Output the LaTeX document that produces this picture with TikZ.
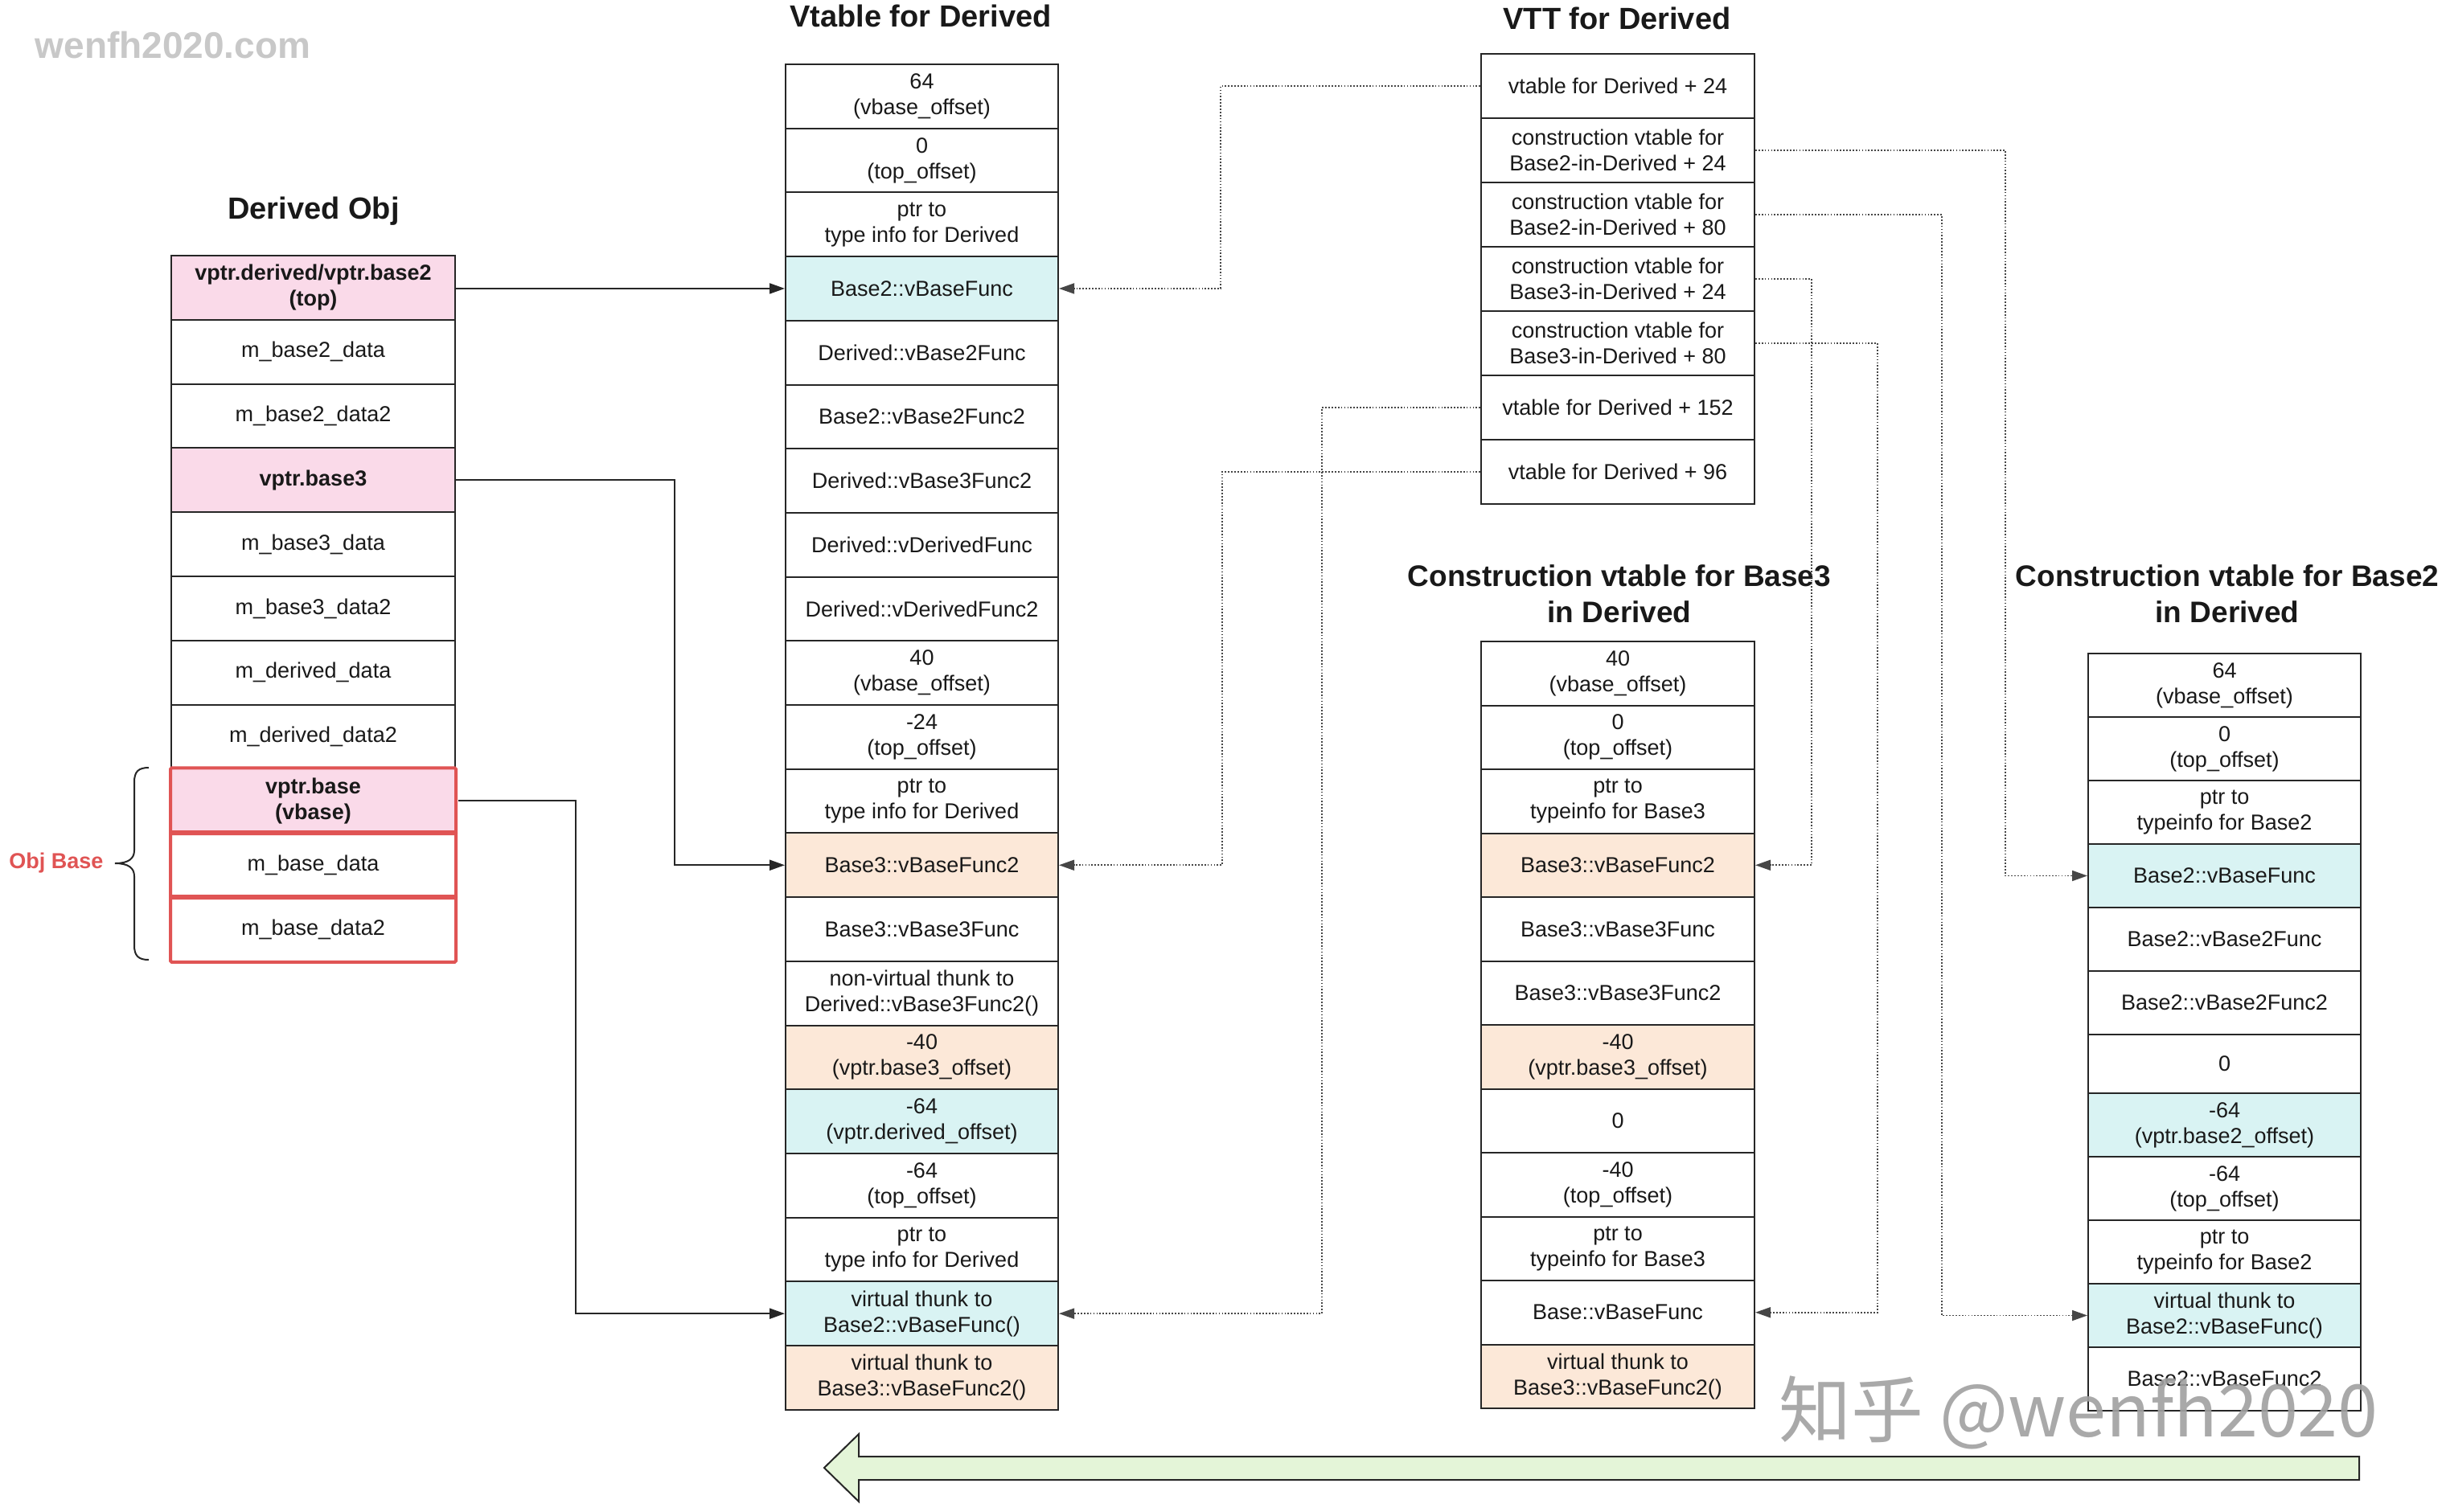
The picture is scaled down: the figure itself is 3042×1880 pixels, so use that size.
\documentclass[tikz,border=0pt]{standalone}
\usepackage{fontspec}
\setmainfont{Liberation Sans}
\newfontfamily\cjkfont{Noto Sans CJK SC}
\usetikzlibrary{arrows.meta}
\definecolor{linec}{RGB}{38,38,38}
\definecolor{dotc}{RGB}{70,70,70}
\definecolor{textc}{RGB}{25,25,25}
\definecolor{pinkc}{RGB}{250,218,233}
\definecolor{cyanc}{RGB}{217,243,243}
\definecolor{peachc}{RGB}{252,232,216}
\definecolor{greenc}{RGB}{228,245,216}
\definecolor{objred}{RGB}{224,84,84}
\definecolor{wmgray}{RGB}{200,200,200}
\definecolor{wmgray2}{RGB}{160,160,160}
\newcommand\SetTbl[4]{\def\TBx{#1}\def\TBy{#2}\def\TBw{#3}\def\TBh{#4}}
\newcommand\TRow[4]{\node[cellbox,fill=#3,minimum width=\TBw pt,minimum height=\TBh pt,anchor=north west] (#1) at (\TBx,\TBy+#2*\TBh) {#4};}
\begin{document}
\begin{tikzpicture}[x=1pt,y=-1pt,
  cellbox/.style={draw=linec,line width=2pt,inner sep=0pt,align=center,text=textc,font=\fontsize{27}{32}\selectfont},
  redbox/.style={draw=objred,line width=4pt,rounded corners=1.5pt},
  title/.style={font=\fontsize{38}{45}\selectfont\bfseries,text=textc,align=center,inner sep=0pt},
  ctitle/.style={font=\fontsize{37}{45}\selectfont\bfseries,text=textc,align=center,inner sep=0pt},
  conn/.style={draw=linec,line width=2pt,-{Triangle[length=19pt,width=13pt]}},
  dconn/.style={draw=dotc,line width=1.7pt,dash pattern=on 1.7pt off 2.2pt,-{Triangle[length=19pt,width=13pt]}},
  wm/.style={inner sep=0pt}]
\useasboundingbox[fill=white] (0,0) rectangle (3042,1880);

% watermark top-left
\node[wm,text=wmgray,font=\fontsize{46}{52}\selectfont\bfseries] (wm1) at (215,56) {wenfh2020.com};

% titles
\node[title] (tObj) at (390,263) {Derived Obj};
\node[title] (tVt) at (1145,20) {Vtable for Derived};
\node[title] (tVTT) at (2011,23) {VTT for Derived};
\node[ctitle] (tC3) at (2014,739) {Construction vtable for Base3\\in Derived};
\node[ctitle] (tC2) at (2770,739) {Construction vtable for Base2\\in Derived};

% Derived object
\SetTbl{212}{317}{353}{79.8}
\TRow{o0}{0}{pinkc}{\bfseries vptr.derived/vptr.base2\\\bfseries(top)}
\TRow{o1}{1}{white}{m\_base2\_data}
\TRow{o2}{2}{white}{m\_base2\_data2}
\TRow{o3}{3}{pinkc}{\bfseries vptr.base3}
\TRow{o4}{4}{white}{m\_base3\_data}
\TRow{o5}{5}{white}{m\_base3\_data2}
\TRow{o6}{6}{white}{m\_derived\_data}
\TRow{o7}{7}{white}{m\_derived\_data2}
\TRow{o8}{8}{pinkc}{\bfseries vptr.base\\\bfseries(vbase)}
\TRow{o9}{9}{white}{m\_base\_data}
\TRow{o10}{10}{white}{m\_base\_data2}
\draw[redbox] (o8.north west) rectangle (o8.south east);
\draw[redbox] (o9.north west) rectangle (o9.south east);
\draw[redbox] (o10.north west) rectangle (o10.south east);

% brace and label
\draw[linec,line width=2pt] (185,955) .. controls (172,955) and (167,960) .. (167,973)
  -- (167,1058) .. controls (167,1068) and (160,1074) .. (143,1074)
  .. controls (160,1074) and (167,1080) .. (167,1090)
  -- (167,1176) .. controls (167,1189) and (172,1194) .. (185,1194);
\node[inner sep=0pt,text=objred,font=\fontsize{27}{32}\selectfont\bfseries] (objbase) at (70,1074) {Obj Base};

% Vtable for Derived
\SetTbl{976}{79}{339}{79.7}
\TRow{v0}{0}{white}{64\\(vbase\_offset)}
\TRow{v1}{1}{white}{0\\(top\_offset)}
\TRow{v2}{2}{white}{ptr to\\type info for Derived}
\TRow{v3}{3}{cyanc}{Base2::vBaseFunc}
\TRow{v4}{4}{white}{Derived::vBase2Func}
\TRow{v5}{5}{white}{Base2::vBase2Func2}
\TRow{v6}{6}{white}{Derived::vBase3Func2}
\TRow{v7}{7}{white}{Derived::vDerivedFunc}
\TRow{v8}{8}{white}{Derived::vDerivedFunc2}
\TRow{v9}{9}{white}{40\\(vbase\_offset)}
\TRow{v10}{10}{white}{-24\\(top\_offset)}
\TRow{v11}{11}{white}{ptr to\\type info for Derived}
\TRow{v12}{12}{peachc}{Base3::vBaseFunc2}
\TRow{v13}{13}{white}{Base3::vBase3Func}
\TRow{v14}{14}{white}{non-virtual thunk to\\Derived::vBase3Func2()}
\TRow{v15}{15}{peachc}{-40\\(vptr.base3\_offset)}
\TRow{v16}{16}{cyanc}{-64\\(vptr.derived\_offset)}
\TRow{v17}{17}{white}{-64\\(top\_offset)}
\TRow{v18}{18}{white}{ptr to\\type info for Derived}
\TRow{v19}{19}{cyanc}{virtual thunk to\\Base2::vBaseFunc()}
\TRow{v20}{20}{peachc}{virtual thunk to\\Base3::vBaseFunc2()}

% VTT
\SetTbl{1841}{66}{340}{80}
\TRow{t0}{0}{white}{vtable for Derived + 24}
\TRow{t1}{1}{white}{construction vtable for\\Base2-in-Derived + 24}
\TRow{t2}{2}{white}{construction vtable for\\Base2-in-Derived + 80}
\TRow{t3}{3}{white}{construction vtable for\\Base3-in-Derived + 24}
\TRow{t4}{4}{white}{construction vtable for\\Base3-in-Derived + 80}
\TRow{t5}{5}{white}{vtable for Derived + 152}
\TRow{t6}{6}{white}{vtable for Derived + 96}

% Construction vtable for Base3
\SetTbl{1841}{797}{340}{79.5}
\TRow{c0}{0}{white}{40\\(vbase\_offset)}
\TRow{c1}{1}{white}{0\\(top\_offset)}
\TRow{c2}{2}{white}{ptr to\\typeinfo for Base3}
\TRow{c3}{3}{peachc}{Base3::vBaseFunc2}
\TRow{c4}{4}{white}{Base3::vBase3Func}
\TRow{c5}{5}{white}{Base3::vBase3Func2}
\TRow{c6}{6}{peachc}{-40\\(vptr.base3\_offset)}
\TRow{c7}{7}{white}{0}
\TRow{c8}{8}{white}{-40\\(top\_offset)}
\TRow{c9}{9}{white}{ptr to\\typeinfo for Base3}
\TRow{c10}{10}{white}{Base::vBaseFunc}
\TRow{c11}{11}{peachc}{virtual thunk to\\Base3::vBaseFunc2()}

% Construction vtable for Base2
\SetTbl{2596}{812}{339}{79}
\TRow{b0}{0}{white}{64\\(vbase\_offset)}
\TRow{b1}{1}{white}{0\\(top\_offset)}
\TRow{b2}{2}{white}{ptr to\\typeinfo for Base2}
\TRow{b3}{3}{cyanc}{Base2::vBaseFunc}
\TRow{b4}{4}{white}{Base2::vBase2Func}
\TRow{b5}{5}{white}{Base2::vBase2Func2}
\SetTbl{2596}{1286}{339}{73}
\TRow{b6}{0}{white}{0}
\SetTbl{2596}{1359}{339}{79}
\TRow{b7}{0}{cyanc}{-64\\(vptr.base2\_offset)}
\TRow{b8}{1}{white}{-64\\(top\_offset)}
\TRow{b9}{2}{white}{ptr to\\typeinfo for Base2}
\TRow{b10}{3}{cyanc}{virtual thunk to\\Base2::vBaseFunc()}
\TRow{b11}{4}{white}{Base2::vBaseFunc2}

% bend coordinates
\coordinate (r1) at (839,0);
\coordinate (r2) at (716,0);
\coordinate (d0) at (1518,0);
\coordinate (d6) at (1520,0);
\coordinate (d5) at (1644,0);
\coordinate (d1) at (2494,0);
\coordinate (d2) at (2415,0);
\coordinate (d3) at (2253,0);
\coordinate (d4) at (2335,0);

% solid connectors
\draw[conn] (o0.east |- v3.west) -- (v3.west);
\draw[conn] (o3.east) -| (r1 |- v12.west) -- (v12.west);
\draw[conn] (o8.east) ++(3,0) -| (r2 |- v19.west) -- (v19.west);

% dotted connectors
\draw[dconn] (t0.west) -| (d0 |- v3.east) -- (v3.east);
\draw[dconn] (t6.west) -| (d6 |- v12.east) -- (v12.east);
\draw[dconn] (t5.west) -| (d5 |- v19.east) -- (v19.east);
\draw[dconn] (t1.east) -| (d1 |- b3.west) -- (b3.west);
\draw[dconn] (t2.east) -| (d2 |- b10.west) -- (b10.west);
\draw[dconn] (t3.east) -| (d3 |- c3.east) -- (c3.east);
\draw[dconn] (t4.east) -| (d4 |- c10.east) -- (c10.east);

% big green arrow
\draw[draw=linec,line width=2pt,fill=greenc,line join=miter]
  (1025,1826) -- (1068,1784) -- (1068,1812) -- (2934,1812) -- (2934,1841)
  -- (1068,1841) -- (1068,1868) -- cycle;

% watermark bottom-right
\node[wm,anchor=west,text=wmgray2,fill opacity=0.9,text opacity=0.9,font=\fontsize{90}{96}\selectfont] (wm2) at (2212,1757) {\cjkfont 知乎 @wenfh2020};
\end{tikzpicture}
\end{document}
